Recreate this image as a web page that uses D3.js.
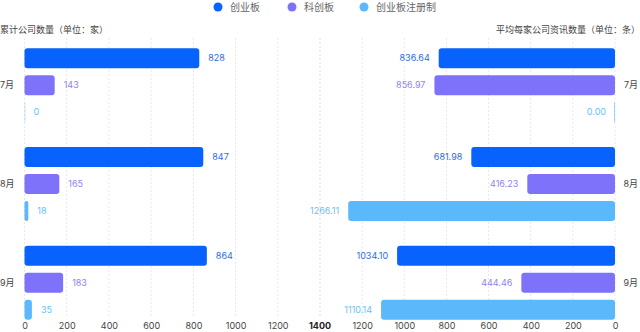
<!DOCTYPE html>
<html><head><meta charset="utf-8">
<script src="https://cdn.jsdelivr.net/npm/d3@7"></script>
<style>
body{margin:0;background:#fff;}
svg{display:block;font-family:Inter,"Noto Sans CJK SC",sans-serif;}
</style></head>
<body><svg id="c" width="640" height="332"></svg>
<script>
const months = ["7月","8月","9月"];
const seriesNames = ["创业板","科创板","创业板注册制"];
const countChuangye = [828, 847, 864];
const countKechuang = [143, 165, 183];
const countZhuce = [0, 18, 35];
const avgChuangye = [836.64, 681.98, 1034.10];
const avgKechuang = [856.97, 416.23, 444.46];
const avgZhuce = [0.00, 1266.11, 1110.14];
const tickValues = [0, 200, 400, 600, 800, 1000, 1200];
const centerTick = 1400;

const colors = ["#0762FE", "#7D72F9", "#5AB8FB"];
const labelColors = ["#2E6BDF", "#8D84EA", "#6CC0F5"];

const svg = d3.select("#c");
const left = [countChuangye, countKechuang, countZhuce];
const right = [avgChuangye, avgKechuang, avgZhuce];

const xL = d3.scaleLinear().domain([0, 1400]).range([24.5, 320]);
const xR = d3.scaleLinear().domain([0, 1400]).range([615, 320]);
const yB = d3.scaleBand().domain(months).range([36, 332]).paddingInner(0).paddingOuter(0);

// gridlines
const gridVals = tickValues.concat([centerTick]);
const g = svg.append("g");
gridVals.forEach(v => {
  [xL, xR].forEach(sc => {
    g.append("line").attr("x1", sc(v)).attr("x2", sc(v)).attr("y1", 38).attr("y2", 318)
      .attr("stroke", "#e8e8e8").attr("stroke-width", 1).attr("stroke-dasharray", "2,2");
  });
});

// legend
const legX = [218, 292, 364];
seriesNames.forEach((n, i) => {
  svg.append("circle").attr("cx", legX[i]).attr("cy", 7).attr("r", 4.5).attr("fill", colors[i]);
  svg.append("text").attr("x", legX[i] + 12).attr("y", 7).attr("dy", "0.35em")
    .attr("font-size", 10).attr("fill", "#666").text(n);
});

// titles
svg.append("text").attr("x", 0).attr("y", 33).attr("font-size", 9).attr("fill", "#444")
  .text("累计公司数量（单位：家）");
svg.append("text").attr("x", 640).attr("y", 33).attr("text-anchor", "end").attr("font-size", 9).attr("fill", "#444")
  .text("平均每家公司资讯数量（单位：条）");

// bars
const bh = 20;
months.forEach((m, mi) => {
  const cy = yB(m) + yB.bandwidth() / 2;
  for (let s = 0; s < 3; s++) {
    const y = cy - 27 + s * 27 - bh / 2;
    const vL = left[s][mi];
    const wL = Math.max(xL(vL) - xL(0), 1);
    svg.append("rect").attr("x", xL(0)).attr("y", y).attr("width", wL).attr("height", bh)
      .attr("rx", Math.min(3, wL / 2)).attr("fill", colors[s]).attr("opacity", vL === 0 ? 0.35 : 1);
    svg.append("text").attr("x", xL(vL) + 9).attr("y", y + bh / 2).attr("dy", "0.35em")
      .attr("font-size", 9).attr("fill", labelColors[s]).text(d3.format("d")(vL));
    const vR = right[s][mi];
    const wR = Math.max(xR(0) - xR(vR), 1);
    svg.append("rect").attr("x", xR(0) - wR).attr("y", y).attr("width", wR).attr("height", bh)
      .attr("rx", Math.min(3, wR / 2)).attr("fill", colors[s]).attr("opacity", vR === 0 ? 0.6 : 1);
    svg.append("text").attr("x", xR(vR) - 9).attr("y", y + bh / 2).attr("dy", "0.35em")
      .attr("text-anchor", "end").attr("font-size", 9).attr("fill", labelColors[s]).text(d3.format(".2f")(vR));
  }
  svg.append("text").attr("x", 0).attr("y", cy).attr("dy", "0.35em").attr("font-size", 9).attr("fill", "#444").text(m);
  svg.append("text").attr("x", 638).attr("y", cy).attr("dy", "0.35em").attr("text-anchor", "end").attr("font-size", 9).attr("fill", "#444").text(m);
});

// axes
const fmt = d3.format("d");
const axL = svg.append("g").attr("transform", "translate(0,316)")
  .call(d3.axisBottom(xL).tickValues(tickValues).tickFormat(fmt).tickSize(0).tickPadding(7));
const axR = svg.append("g").attr("transform", "translate(0,316)")
  .call(d3.axisBottom(xR).tickValues(tickValues).tickFormat(fmt).tickSize(0).tickPadding(7));
[axL, axR].forEach(a => {
  a.select(".domain").remove();
  a.selectAll("text").attr("font-size", 9).attr("fill", "#444").style("font-family", "Inter, sans-serif");
});
svg.append("text").attr("x", 320).attr("y", 323).attr("dy", "0.71em").attr("text-anchor", "middle")
  .attr("font-size", 9).attr("font-weight", "bold").attr("fill", "#222").text(centerTick);
</script></body></html>
